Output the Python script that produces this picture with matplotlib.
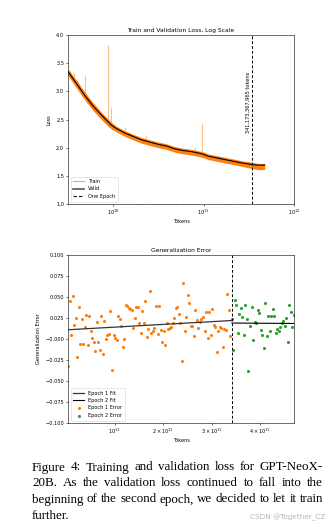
import numpy as np
import matplotlib
matplotlib.use('Agg')
import matplotlib.pyplot as plt
from matplotlib.lines import Line2D

# ---------------- top panel data (tokens in billions) ----------------
valid_tokens_B = [3.18, 3.94, 4.86, 6.01, 7.43, 8.81, 9.59, 10.9, 13.5, 16.6,
                  20.6, 25.4, 31.4, 38.8, 48.0, 59.3, 73.5, 90.8, 101, 112,
                  139, 171, 212, 262, 344, 400, 474]
valid_loss = [3.35, 3.14, 2.93, 2.74, 2.58, 2.46, 2.40, 2.34, 2.26, 2.20,
              2.14, 2.10, 2.06, 2.03, 1.98, 1.95, 1.93, 1.90, 1.88, 1.85,
              1.82, 1.79, 1.76, 1.73, 1.70, 1.69, 1.69]
train_low = [3.28, 3.06, 2.85, 2.66, 2.50, 2.38, 2.33, 2.28, 2.20, 2.14,
             2.08, 2.04, 2.00, 1.97, 1.92, 1.89, 1.87, 1.84, 1.82, 1.79,
             1.76, 1.73, 1.70, 1.67, 1.63, 1.61, 1.61]
train_high = [3.40, 3.20, 2.99, 2.80, 2.63, 2.51, 2.45, 2.38, 2.30, 2.24,
              2.18, 2.14, 2.10, 2.07, 2.02, 1.99, 1.97, 1.94, 1.92, 1.89,
              1.86, 1.83, 1.80, 1.77, 1.74, 1.72, 1.72]
spike_tokens_B = [3.7, 4.0, 4.9, 6.2, 8.9, 9.6, 13.5, 23, 81, 97]
spike_top = [3.32, 3.20, 3.29, 2.77, 3.82, 2.72, 2.37, 2.22, 2.01, 2.44]
epoch_tokens = 341_173_367_965

# ---------------- bottom panel data (tokens in billions) ----------------
e1_tokens_B = [3.9, 7.0, 10.1, 13.3, 16.4, 19.5, 22.6, 25.8, 28.9, 32.0,
               35.1, 38.3, 41.4, 44.5, 47.6, 50.7, 53.9, 57.0, 60.1, 63.2,
               66.4, 69.5, 72.6, 75.7, 78.9, 82.0, 85.1, 88.2, 91.3, 94.5,
               97.6, 100.7, 103.8, 107.0, 110.1, 113.2, 116.3, 119.5, 122.6, 125.7,
               128.8, 131.9, 135.1, 138.2, 141.3, 144.4, 147.6, 150.7, 153.8, 156.9,
               160.1, 163.2, 166.3, 169.4, 172.5, 175.7, 178.8, 181.9, 185.0, 188.2,
               191.3, 194.4, 197.5, 200.7, 203.8, 206.9, 210.0, 213.1, 216.3, 219.4,
               222.5, 225.6, 228.8, 231.9, 235.0, 238.1, 241.3, 244.4, 247.5, 250.6,
               253.7, 256.9, 260.0, 263.1, 266.2, 269.4, 272.5, 275.6, 278.7, 281.9,
               285.0, 288.1, 291.2, 294.3, 297.5, 300.6, 303.7, 306.8, 310.0, 313.1,
               316.2, 319.3, 322.5, 325.6, 328.7, 331.8, 334.9, 338.1]
e1_err = [-0.032, 0.045, 0.005, 0.051, 0.017, 0.025, -0.021, 0.038, -0.006, 0.024,
          -0.006, 0.014, 0.028, -0.007, 0.027, 0.009, 0.001, -0.003, -0.014, 0.020,
          -0.004, -0.013, 0.027, -0.018, 0.022, 0.000, 0.005, 0.006, 0.033, -0.037,
          0.005, 0.001, -0.001, 0.027, 0.024, 0.015, -0.009, 0.000, 0.041, 0.039,
          0.037, 0.036, 0.035, 0.013, 0.025, 0.038, 0.038, 0.019, 0.007, 0.033,
          0.019, 0.045, 0.002, 0.012, 0.057, 0.007, 0.009, 0.013, 0.039, 0.006,
          0.039, 0.011, -0.004, 0.010, -0.007, 0.019, 0.012, 0.013, 0.014, 0.019,
          0.025, 0.037, 0.038, 0.030, 0.019, -0.026, 0.067, 0.009, 0.026, 0.052,
          0.043, 0.015, 0.016, 0.004, 0.035, 0.023, 0.013, 0.020, 0.024, 0.026,
          0.010, 0.032, 0.001, 0.032, 0.005, 0.036, 0.017, 0.014, -0.016, 0.010,
          0.014, 0.013, -0.010, 0.012, 0.011, 0.053, 0.034, 0.003]
e2_tokens_B = [341.2, 344.3, 347.4, 350.6, 353.7, 356.8, 359.9, 363.1, 366.2, 369.3,
               372.4, 375.5, 378.7, 381.8, 384.9, 388.0, 391.2, 394.3, 397.4, 400.5,
               403.7, 406.8, 409.9, 413.0, 416.1, 419.3, 422.4, 425.5, 428.6, 431.8,
               434.9, 438.0, 441.1, 444.3, 447.4, 450.5, 453.6, 456.7, 459.9, 463.0,
               466.1, 469.2]
e2_err = [0.024, -0.013, 0.047, 0.041, 0.007, 0.030, 0.037, 0.026, 0.005, 0.040,
          0.024, -0.038, 0.016, 0.038, -0.001, 0.020, 0.019, 0.034, 0.031, 0.011,
          0.005, -0.011, 0.043, 0.003, 0.027, 0.010, 0.027, 0.036, 0.027, 0.007,
          0.012, 0.009, 0.014, 0.019, 0.021, 0.015, 0.025, -0.004, 0.041, 0.032,
          0.014, 0.028]
fit1_tokens_B = [3.9, 341.2]
fit1_err = [0.011, 0.022]
fit2_tokens_B = [341.2, 469.2]
fit2_err = [0.019, 0.0185]

bottom_xticks_B = [100, 200, 300, 400]
bottom_xticklabels = [r'$10^{11}$', r'$2\times10^{11}$', r'$3\times10^{11}$', r'$4\times10^{11}$']

caption_lines = [
    "Figure 4: Training and validation loss for GPT-NeoX-",
    "20B. As the validation loss continued to fall into the",
    "beginning of the second epoch, we decided to let it train",
    "further.",
]
watermark = "CSDN @Together_CZ"

# ---------------- styling ----------------
ORANGE = '#ff7f0e'
GREEN = '#2ca02c'
TS = 3.6      # tick / label font size
TT = 4.3      # title size
W, H = 331, 528
plt.rcParams['font.family'] = ['DejaVu Sans']
plt.rcParams['axes.linewidth'] = 0.5

fig = plt.figure(figsize=(W / 100, H / 100), dpi=100)
fig.patch.set_facecolor('white')


def px_axes(l, t, r, b):
    return fig.add_axes([l / W, 1 - b / H, (r - l) / W, (b - t) / H])


def style(ax):
    ax.tick_params(labelsize=TS, length=1.6, width=0.4, pad=1.2)
    ax.tick_params(which='minor', length=0.9, width=0.3)
    for s in ax.spines.values():
        s.set_linewidth(0.5)
        s.set_color('#333333')


# ---------------- top panel ----------------
ax1 = px_axes(68, 35, 294, 204)
vt = np.array(valid_tokens_B) * 1e9
ax1.fill_between(vt, train_low, train_high, color=ORANGE, lw=0, zorder=2)
st = np.array(spike_tokens_B) * 1e9
base = np.interp(np.log10(st), np.log10(vt), valid_loss)
ax1.vlines(st, base, spike_top, color=ORANGE, alpha=0.5, lw=0.8, zorder=1)
ax1.plot(vt, valid_loss, color='black', lw=0.8, zorder=3)
ax1.axvline(epoch_tokens, color='black', ls='--', lw=0.7, dashes=(3, 2))
ax1.text(epoch_tokens * 0.985, 2.8, f"{epoch_tokens:,} tokens", rotation=90,
         rotation_mode='anchor', ha='center', va='bottom', fontsize=TS)
ax1.set_xscale('log')
ax1.set_xlim(vt[0], 1e12)
ax1.set_ylim(1.0, 4.0)
ax1.set_yticks([1.0, 1.5, 2.0, 2.5, 3.0, 3.5, 4.0])
ax1.set_title('Train and Validation Loss, Log Scale', fontsize=TT, pad=2.5)
ax1.set_xlabel('Tokens', fontsize=TS, labelpad=1.5)
ax1.set_ylabel('Loss', fontsize=TS, labelpad=3)
style(ax1)
h1 = [Line2D([], [], color=ORANGE, lw=0.8, alpha=0.7),
      Line2D([], [], color='#555555', lw=1.2),
      Line2D([], [], color='black', lw=0.8, ls='--', dashes=(3, 2))]
ax1.legend(h1, ['Train', 'Valid', 'One Epoch'], loc='lower left', fontsize=TS,
           handlelength=2.2, borderpad=0.5, labelspacing=0.5, framealpha=0.8,
           edgecolor='#cccccc', fancybox=True).get_frame().set_linewidth(0.4)

# ---------------- bottom panel ----------------
ax2 = px_axes(68, 255, 294, 423)
e1t = np.array(e1_tokens_B) * 1e9
e2t = np.array(e2_tokens_B) * 1e9
ax2.plot(np.array(fit1_tokens_B) * 1e9, fit1_err, color='#333333', lw=0.9,
         label='Epoch 1 Fit', zorder=3)
ax2.plot(np.array(fit2_tokens_B) * 1e9, fit2_err, color='black', lw=0.8,
         label='Epoch 2 Fit', zorder=3)
ax2.scatter(e1t, e1_err, s=5, color=ORANGE, lw=0, label='Epoch 1 Error', zorder=2)
ax2.scatter(e2t, e2_err, s=5, color=GREEN, lw=0, label='Epoch 2 Error', zorder=2)
ax2.axvline(epoch_tokens, color='black', ls='--', lw=0.7, dashes=(3, 2))
ax2.set_xlim(e1t[0], e2t[-1])
ax2.set_ylim(-0.1, 0.1)
ax2.set_yticks(np.arange(-0.1, 0.1001, 0.025))
ax2.yaxis.set_major_formatter(matplotlib.ticker.StrMethodFormatter('{x:.3f}'))
ax2.set_xticks(np.array(bottom_xticks_B) * 1e9)
ax2.set_xticklabels(bottom_xticklabels)
ax2.set_title('Generalization Error', fontsize=TT, pad=2.5)
ax2.set_xlabel('Tokens', fontsize=TS, labelpad=1.5)
ax2.set_ylabel('Generalization Error', fontsize=TS, labelpad=3)
style(ax2)
ax2.legend(loc='lower left', fontsize=TS, handlelength=2.2, borderpad=0.5,
           labelspacing=0.5, framealpha=0.8, edgecolor='#cccccc',
           markerscale=1.0).get_frame().set_linewidth(0.4)

# ---------------- caption (justified) ----------------
renderer = fig.canvas.get_renderer()
CAP_FONT = 'Liberation Serif'
CAP_SIZE = 9.4
x0, x1 = 32, 323
baselines = [470.5, 486.5, 502.5, 519]
for i, (line, yb) in enumerate(zip(caption_lines, baselines)):
    words = line.split(' ')
    objs = [fig.text(0, 1 - yb / H, w_, fontsize=CAP_SIZE, family=CAP_FONT,
                     va='baseline', ha='left') for w_ in words]
    widths = [o.get_window_extent(renderer).width for o in objs]
    last = i == len(caption_lines) - 1
    if last or len(words) == 1:
        gap = CAP_SIZE * 0.25 * 100 / 72
    else:
        gap = ((x1 - x0) - sum(widths)) / (len(words) - 1)
    x = x0
    for o, wd in zip(objs, widths):
        o.set_x(x / W)
        x += wd + gap

fig.text(325 / W, 1 - 519 / H, watermark, fontsize=5.2, color='#b5b5b5',
         ha='right', va='baseline', family='DejaVu Sans')

fig.savefig('out.png', dpi=100, facecolor='white')
